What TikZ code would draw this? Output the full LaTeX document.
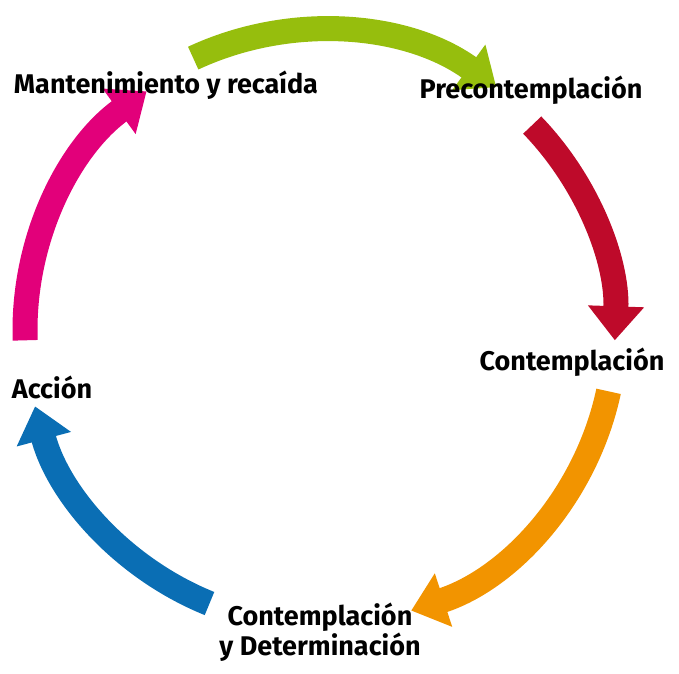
\documentclass[tikz,border=0pt]{standalone}
\usepackage{fontspec}
\setmainfont{Fira Sans}
\usetikzlibrary{arrows.meta}
\definecolor{cgreen}{HTML}{96BE0D}
\definecolor{cred}{HTML}{BE0A2A}
\definecolor{corange}{HTML}{F29400}
\definecolor{cblue}{HTML}{0A6EB4}
\definecolor{cpink}{HTML}{E2007A}
\tikzset{
  cyc/.style={line width=25pt, line cap=butt,
    -{Triangle[width=54pt 0 0,length=34pt 0 0]}},
  lab/.style={font=\fontsize{27pt}{30pt}\selectfont\bfseries, align=center}
}
\begin{document}
\begin{tikzpicture}[x=1pt,y=-1pt]
\useasboundingbox (0,0) rectangle (679,673);
\coordinate (c) at (320,330);
% angles are mirrored because y points down
\draw[cyc,cgreen]  (c) ++(-115:300) arc[start angle=-115,end angle=-54,radius=300];
\draw[cyc,cred]    (c) ++(-44:295)  arc[start angle=-44,end angle=2,radius=295];
\draw[cyc,corange] (c) ++(12:295) arc[start angle=12,end angle=72,radius=295];
\draw[cyc,cblue]   (c) ++(112:295) arc[start angle=112,end angle=165,radius=295];
\draw[cyc,cpink]   (c) ++(178:295) arc[start angle=178,end angle=234,radius=295];
\node[lab] (m) at (166,85) {Mantenimiento y recaída};
\node[lab] (p) at (531,90) {Precontemplación};
\node[lab] (k) at (572,362) {Contemplación};
\node[lab] (a) at (52,387) {Acción};
\node[lab] (d) at (320,632) {Contemplación\\y Determinación};
\end{tikzpicture}
\end{document}
